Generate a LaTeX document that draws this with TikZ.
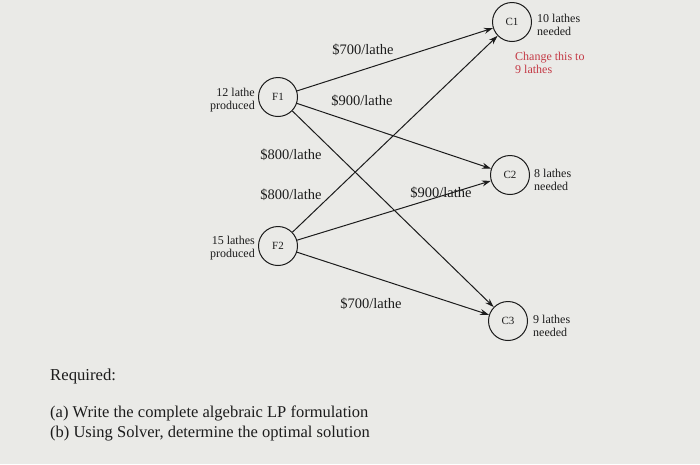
\documentclass[tikz,border=0pt]{standalone}
\usepackage{fontspec}
\setmainfont{Liberation Serif}
\usepackage{xcolor}
\usetikzlibrary{arrows.meta}

\definecolor{paper}{RGB}{234,234,231}
\definecolor{ink}{RGB}{28,28,28}
\definecolor{note}{RGB}{196,58,70}

\begin{document}
\begin{tikzpicture}[x=1pt, y=-1pt, ink,
    site/.style={circle, draw=ink, line width=1pt, inner sep=0pt, minimum size=39pt, font=\fontsize{11}{13}\selectfont},
    cost/.style={font=\fontsize{14.5}{16}\selectfont, inner sep=1pt},
    info/.style={font=\fontsize{12}{13.5}\selectfont, align=left, inner sep=0pt},
    ship/.style={draw=ink, line width=1pt, -{Stealth[length=9pt, width=6pt]}}]
      \fill[paper] (0, 0) rectangle (700, 464);

      \node[site] (F1) at (278, 97) {F1};
      \node[site] (F2) at (278, 246) {F2};
      \node[site] (C1) at (512, 22) {C1};
      \node[site] (C2) at (510, 175) {C2};
      \node[site] (C3) at (508, 321) {C3};

      \node[info, align=right, anchor=east] (s1) at (255, 100) {12 lathe\\produced};
      \node[info, align=right, anchor=east] (s2) at (255, 248) {15 lathes\\produced};
      \node[info, anchor=west] (d1) at (537, 25) {10 lathes\\needed};
      \node[info, anchor=west] (d2) at (534, 180) {8 lathes\\needed};
      \node[info, anchor=west] (d3) at (533, 326) {9 lathes\\needed};
      \node[info, anchor=west, text=note] (fix) at (515, 63) {Change this to\\9 lathes};

      \draw[ship] (F1) -- (C1);
      \draw[ship] (F1) -- (C2);
      \draw[ship] (F1) -- (C3);
      \draw[ship] (F2) -- (C1);
      \draw[ship] (F2) -- (C2);
      \draw[ship] (F2) -- (C3);

      \node[cost] (c11) at (363, 50) {\$700/lathe};
      \node[cost] (c12) at (362, 101) {\$900/lathe};
      \node[cost] (c13) at (291, 155) {\$800/lathe};
      \node[cost] (c21) at (291, 195) {\$800/lathe};
      \node[cost] (c22) at (441, 193) {\$900/lathe};
      \node[cost] (c23) at (371, 304) {\$700/lathe};

      \node[anchor=west, inner sep=0pt, font=\fontsize{16.7}{20}\selectfont] (req) at (50, 376) {Required:};
      \node[anchor=west, inner sep=0pt, align=left, font=\fontsize{16.5}{20}\selectfont] (parts) at (50, 423) {(a) Write the complete algebraic LP formulation\\(b) Using Solver, determine the optimal solution};
\end{tikzpicture}
\end{document}
